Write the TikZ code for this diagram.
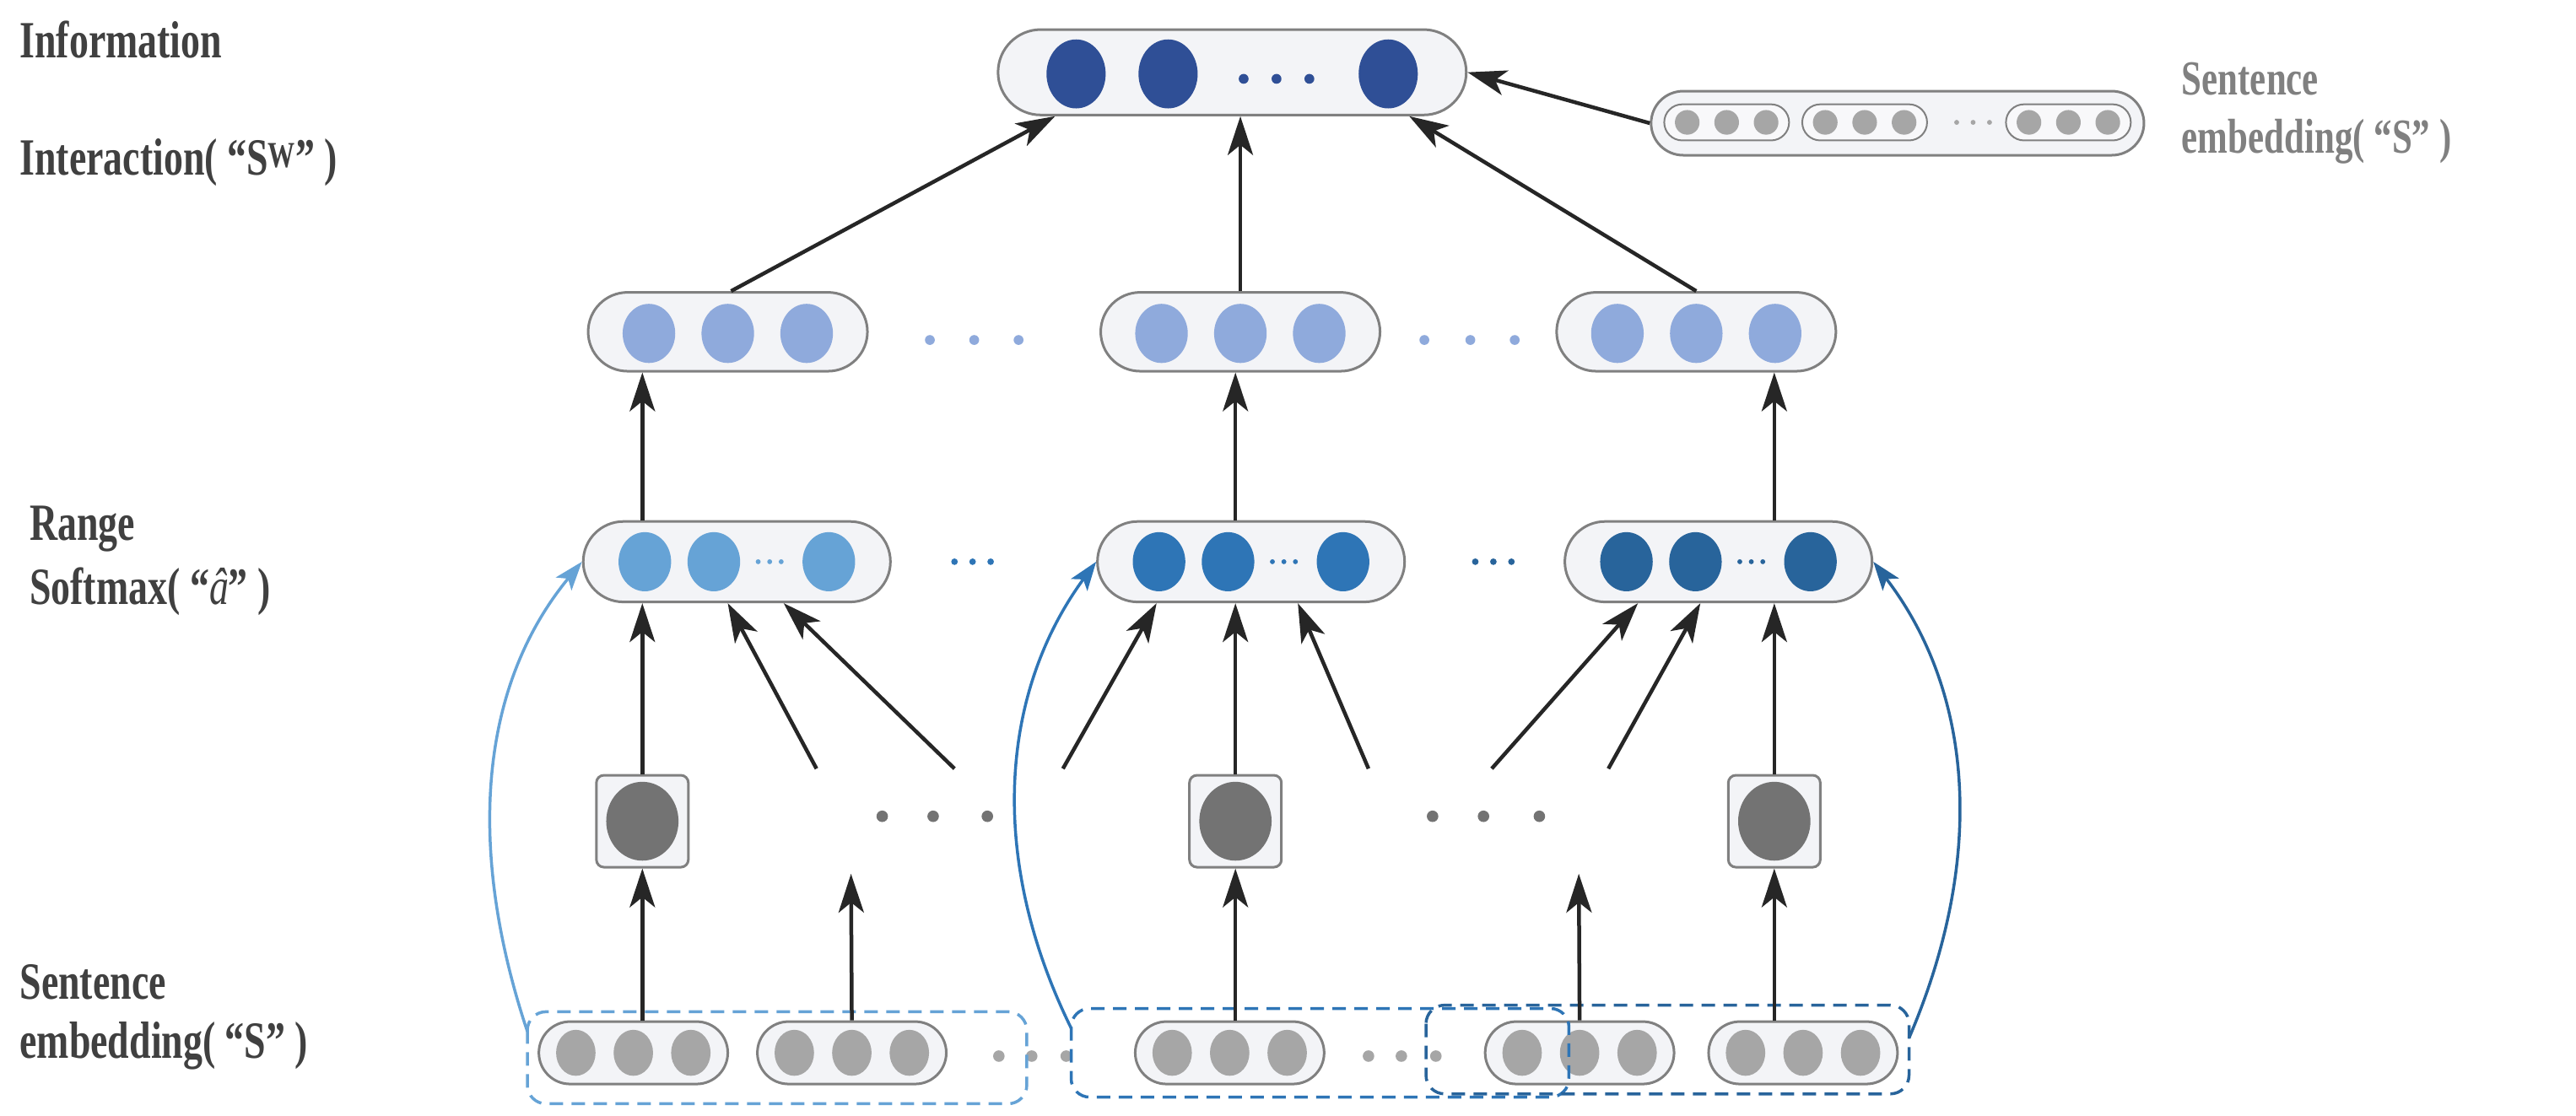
\documentclass[tikz,border=0pt]{standalone}
\usepackage{fontspec}
\setmainfont{Liberation Serif}
\usetikzlibrary{shapes.geometric,shapes.misc,arrows.meta}
\definecolor{boxgray}{HTML}{808080}
\definecolor{boxfill}{HTML}{F3F4F7}
\definecolor{cTop}{HTML}{2F4F96}
\definecolor{cMid}{HTML}{8FAADC}
\definecolor{cOne}{HTML}{66A3D6}
\definecolor{cTwo}{HTML}{2E75B6}
\definecolor{cThr}{HTML}{28649B}
\definecolor{cDot}{HTML}{737373}
\definecolor{cEmb}{HTML}{A6A6A6}
\definecolor{txt}{HTML}{404040}
\def\ux{1.947pt}
\begin{document}
\begin{tikzpicture}[x=1.947pt,y=-1.947pt,
  bar/.style={rounded rectangle,draw=boxgray,line width=3pt,fill=boxfill,inner sep=0pt},
  cell/.style={rounded corners=9pt,draw=boxgray,line width=3pt,fill=boxfill,inner sep=0pt,
    minimum width=56*\ux,minimum height=56*\ux},
  ball/.style={ellipse,draw=none,inner sep=0pt},
  pt/.style={circle,inner sep=0pt,minimum size=6*\ux},
  con/.style={line width=4.5pt,draw=black!85,-{Stealth[length=46pt,width=30pt,inset=12pt]}},
  cur/.style={line width=3.5pt,-{Stealth[length=34pt,width=24pt,inset=8pt]}},
  window/.style={rounded corners=22pt,line width=3.5pt,dash pattern=on 16pt off 10pt},
  lab/.style={font=\fontsize{62}{70}\selectfont\bfseries,text=txt,anchor=west,inner sep=0pt,xscale=0.74,transform shape},
  glab/.style={lab,text=boxgray}]
\useasboundingbox (0,0) rectangle (1568,679);

% labels
\node[lab] (l1) at (12,24) {Information};
\node[lab] (l2) at (12,99) {Interaction( “S\textsuperscript{W}” )};
\node[lab] (l3) at (18,322) {Range};
\node[lab] (l4) at (18,360) {Softmax( “\textmd{\textit{\^{a}}}” )};
\node[lab] (l5) at (12,598) {Sentence};
\node[lab] (l6) at (12,637) {embedding( “S” )};
\node[glab,font=\fontsize{58}{66}\selectfont\bfseries] (l7) at (1328,48) {Sentence};
\node[glab,font=\fontsize{58}{66}\selectfont\bfseries] (l8) at (1328,86) {embedding( “S” )};

% top interaction vector
\node[bar,minimum width=285*\ux,minimum height=52*\ux] (T) at (750,44) {};
\foreach \x/\n in {655/1,711/2,845/3}
  \node[ball,fill=cTop,minimum width=36*\ux,minimum height=42*\ux] (t\n) at (\x,45) {};
\foreach \x in {757,777,797} \node[pt,fill=cTop] at (\x,48) {};

% sentence embedding at top right
\node[bar,minimum width=300*\ux,minimum height=39*\ux] (R) at (1155,75) {};
\foreach \x/\n in {1051/1,1135/2,1259/3}{
  \node[bar,line width=2pt,fill=boxfill!60!white,minimum width=76*\ux,minimum height=22*\ux] (r\n) at (\x,74.5) {};
  \foreach \d in {-24,0,24}
    \node[ball,fill=cEmb,minimum width=15*\ux,minimum height=15*\ux] at (\x+\d,74.5) {};
}
\foreach \x in {1191,1201,1211} \node[pt,fill=cEmb,minimum size=3*\ux] at (\x,74.5) {};

% second level
\foreach \c/\n in {443/1,755/2,1032.5/3}{
  \node[bar,minimum width=170*\ux,minimum height=48*\ux] (B\n) at (\c,202) {};
  \foreach \d in {-48,0,48}
    \node[ball,fill=cMid,minimum width=32*\ux,minimum height=36*\ux] at (\c+\d,203) {};
}
\foreach \x in {566,593,620,867,895,922} \node[pt,fill=cMid] at (\x,207) {};

% range softmax level
\node[bar,minimum width=187*\ux,minimum height=49*\ux] (C1) at (448.5,342) {};
\node[bar,minimum width=187*\ux,minimum height=49*\ux] (C2) at (761.5,342) {};
\node[bar,minimum width=187*\ux,minimum height=49*\ux] (C3) at (1046,342) {};
\foreach \c/\col in {448.5/cOne,761.5/cTwo,1046/cThr}{
  \foreach \d in {-56,-14,56}
    \node[ball,fill=\col,minimum width=32*\ux,minimum height=36*\ux] at (\c+\d,342) {};
  \foreach \d in {13,20,27}
    \node[pt,fill=\col,minimum size=3*\ux] at (\c+\d,342) {};
}
\foreach \x in {581,592,603} \node[pt,fill=cTwo,minimum size=4*\ux] at (\x,342) {};
\foreach \x in {898,909,920} \node[pt,fill=cThr,minimum size=4*\ux] at (\x,342) {};

% single cells
\foreach \c/\n in {391/1,752/2,1080/3}{
  \node[cell] (D\n) at (\c,500) {};
  \node[ball,fill=cDot,minimum width=44*\ux,minimum height=48*\ux] at (\c,500) {};
}
\foreach \x in {537,568,601,872,903,937} \node[pt,fill=cDot,minimum size=7*\ux] at (\x,497) {};

% bottom sentence embeddings
\foreach \c/\n in {385.5/1,518.5/2,748.5/3,961.5/4,1097.5/5}{
  \node[bar,minimum width=115*\ux,minimum height=38*\ux] (E\n) at (\c,641) {};
  \foreach \d in {-35,0,35}
    \node[ball,fill=cEmb,minimum width=24*\ux,minimum height=28*\ux] at (\c+\d,641) {};
}
\foreach \x in {608,628,649,833,853,874} \node[pt,fill=cEmb,minimum size=7*\ux] at (\x,643) {};

% dashed windows
\draw[window,draw=cOne] (321,616) rectangle (625,672);
\draw[window,draw=cTwo] (652,614) rectangle (955,668);
\draw[window,draw=cThr] (868,612) rectangle (1162,666);

% free ends
\coordinate (a1) at (497,468); \coordinate (a2) at (581,468);
\coordinate (a3) at (647,468); \coordinate (a4) at (833,468);
\coordinate (a5) at (908,468); \coordinate (a6) at (979,468);
\coordinate (a7) at (518,532); \coordinate (a8) at (961,532);
\coordinate (ro) at (321,628); \coordinate (rt) at (652,626); \coordinate (rh) at (1162,632);

% connectors
\draw[con] (B1.north -| 445,0) -- (t1.south west |- T.south) ;
\draw[con] (B2.north) -- (T.south -| B2.north);
\draw[con] (B3.north) -- (t3.south east |- T.south);
\draw[con] (R.west) -- (T.east);
\draw[con] (C1.north -| D1) -- (B1.south -| D1);
\draw[con] (C2.north -| D2) -- (B2.south -| D2);
\draw[con] (C3.north -| D3) -- (B3.south -| D3);
\draw[con] (D1.north) -- (C1.south -| D1);
\draw[con] (a1) -- (C1.south -| 443,0);
\draw[con] (a2) -- (C1.south -| 477,0);
\draw[con] (a3) -- (C2.south -| 704,0);
\draw[con] (D2.north) -- (C2.south -| D2);
\draw[con] (a4) -- (C2.south -| 790,0);
\draw[con] (a5) -- (C3.south -| 997,0);
\draw[con] (a6) -- (C3.south -| 1035,0);
\draw[con] (D3.north) -- (C3.south -| D3);
\draw[con] (E1.north -| D1) -- (D1.south);
\draw[con] (E2.north) -- (a7);
\draw[con] (E3.north -| D2) -- (D2.south);
\draw[con] (E4.north) -- (a8);
\draw[con] (E5.north -| D3) -- (D3.south);

% residual curves
\draw[cur,draw=cOne] (ro) .. controls (285,520) and (290,420) .. (C1.west);
\draw[cur,draw=cTwo] (rt) .. controls (600,520) and (610,420) .. (C2.west);
\draw[cur,draw=cThr] (rh) .. controls (1210,520) and (1200,420) .. (C3.east);
\end{tikzpicture}
\end{document}
